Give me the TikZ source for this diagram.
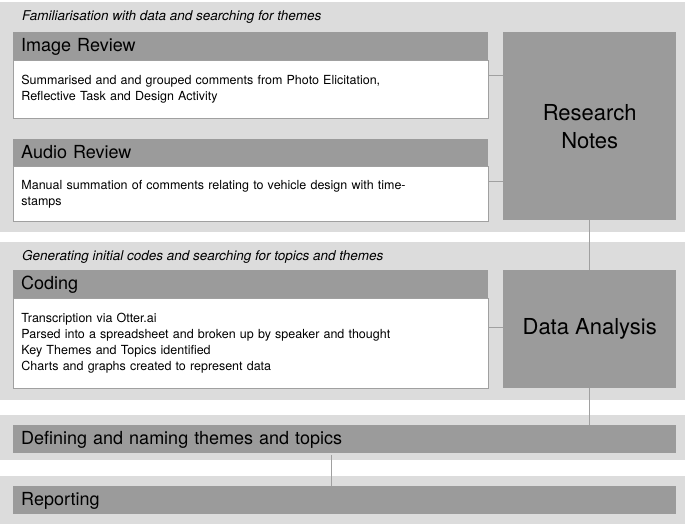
\documentclass[tikz,border=0pt]{standalone}
\usepackage{fontspec}
\setmainfont{TeX Gyre Heros}
\definecolor{band}{HTML}{DCDCDC}
\definecolor{dark}{HTML}{9B9B9B}
\definecolor{ln}{HTML}{A0A0A0}
\begin{document}
\begin{tikzpicture}[x=1pt,y=-1pt,
  bandbox/.style={fill=band,draw=none},
  head/.style={fill=dark,draw=none,anchor=north west,inner sep=0pt,minimum height=28pt,text height=13pt,text depth=3pt,font=\fontsize{18}{20}\selectfont,align=left,inner xsep=8pt},
  body/.style={fill=white,draw=ln,line width=0.8pt,anchor=north west,inner sep=0pt,text width=459pt,inner xsep=8pt,align=left,font=\fontsize{12.5}{16}\selectfont},
  side/.style={fill=dark,draw=none,inner sep=0pt,align=center,font=\fontsize{22}{28}\selectfont},
  conn/.style={draw=ln,line width=1pt},
  ital/.style={anchor=west,font=\fontsize{13.5}{16}\selectfont\itshape,inner sep=0pt}]
\useasboundingbox (0,0) rectangle (685,527);
\fill[white] (0,0) rectangle (685,527);
\fill[band] (0,2) rectangle (685,232);
\fill[band] (0,242) rectangle (685,400);
\fill[band] (0,415) rectangle (685,460);
\fill[band] (0,476) rectangle (685,524);
\node[ital] (t1) at (22,17) {Familiarisation with data and searching for themes};
\node[ital] (t2) at (22,257) {Generating initial codes and searching for topics and themes};
% Image review
\node[head,minimum width=475pt,text width=459pt] (ih) at (13,32) {Image Review};
\node[body,minimum height=58pt] (ib) at (13,60) {Summarised and and grouped comments from Photo Elicitation,\\Reflective Task and Design Activity\vphantom{g}\\[18pt]};
\node[head,minimum width=475pt,text width=459pt] (ah) at (13,139) {Audio Review};
\node[body,minimum height=55pt] (ab) at (13,166) {Manual summation of comments relating to vehicle design with time-\\stamps\\[16pt]};
\node[side,minimum width=173pt,minimum height=188pt,anchor=north west] (rn) at (503,32) {Research\\Notes};
\node[head,minimum width=475pt,text width=459pt] (ch) at (13,270) {Coding};
\node[body,minimum height=90pt] (cb) at (13,298) {Transcription via Otter.ai\\Parsed into a spreadsheet and broken up by speaker and thought\\Key Themes and Topics identified\\Charts and graphs created to represent data\\[16pt]};
\node[side,minimum width=173pt,minimum height=118pt,anchor=north west] (da) at (503,270) {Data Analysis};
\node[head,minimum width=663pt,text width=647pt] (dn) at (13,425) {Defining and naming themes and topics};
\node[head,minimum width=663pt,text width=647pt] (rp) at (13,486) {Reporting};
\coordinate (a1) at (488,75); \coordinate (a2) at (503,75);
\coordinate (b1) at (488,181); \coordinate (b2) at (503,181);
\coordinate (c1) at (488,327); \coordinate (c2) at (503,327);
\draw[conn] (a1) -- (a2);
\draw[conn] (b1) -- (b2);
\draw[conn] (c1) -- (c2);
\draw[conn] (rn.south) -- (da.north);
\draw[conn] (da.south) -- (da.south |- dn.north);
\draw[conn] (331,455) -- (331,486);
\end{tikzpicture}
\end{document}
